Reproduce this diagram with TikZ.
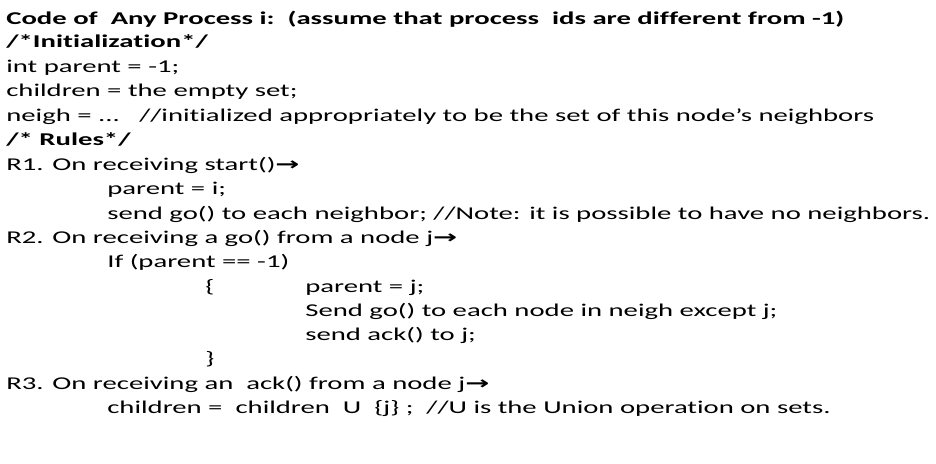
\documentclass[tikz,border=0pt]{standalone}
\usepackage{fontspec}
\setmainfont[Ligatures=NoCommon]{Carlito}
\newfontfamily\arrowfont{DejaVu Sans}
\begin{document}
\begin{tikzpicture}[x=1pt,y=-1pt,
  ln/.style={anchor=base west,inner sep=0pt,font=\fontsize{18}{20}\selectfont,xscale=1.595,transform shape},
  bl/.style={ln,font=\fontsize{18}{20}\selectfont\bfseries}]
\useasboundingbox (0,0) rectangle (936,463);
\newcommand{\arr}{{\arrowfont\bfseries →}}
\node[bl] (l1) at (6,24) {Code of\ \ Any Process i:\ \ (assume that process\ \ ids are different from -1)};
\node[bl] (l2) at (6,47) {/*Initialization*/};
\node[ln] (l3) at (6,72) {int parent = -1;};
\node[ln] (l4) at (6,96) {children = the empty set;};
\node[ln] (l5) at (6,121) {neigh = ...\ \ \ //initialized appropriately to be the set of this node’s neighbors};
\node[bl] (l6) at (6,145) {/* Rules*/};
\node[ln] (l7) at (6,170) {R1. On receiving start()\arr};
\node[ln] (l8) at (107,194) {parent = i;};
\node[ln] (l9) at (107,219) {send go() to each neighbor; //Note: it is possible to have no neighbors.};
\node[ln] (l10) at (6,243) {R2. On receiving a go() from a node j\arr};
\node[ln] (l11) at (107,267) {If (parent == -1)};
\node[ln] (l12a) at (205,292) {\{};
\node[ln] (l12) at (305,292) {parent = j;};
\node[ln] (l13) at (305,316) {Send go() to each node in neigh except j;};
\node[ln] (l14) at (305,340) {send ack() to j;};
\node[ln] (l15) at (205,364) {\}};
\node[ln] (l16) at (6,389) {R3. On receiving an\ \ ack() from a node j\arr};
\node[ln] (l17) at (107,413) {children =\ \ children\ \ U\ \ \{j\}\ ;\ \ //U is the Union operation on sets.};
\end{tikzpicture}
\end{document}
